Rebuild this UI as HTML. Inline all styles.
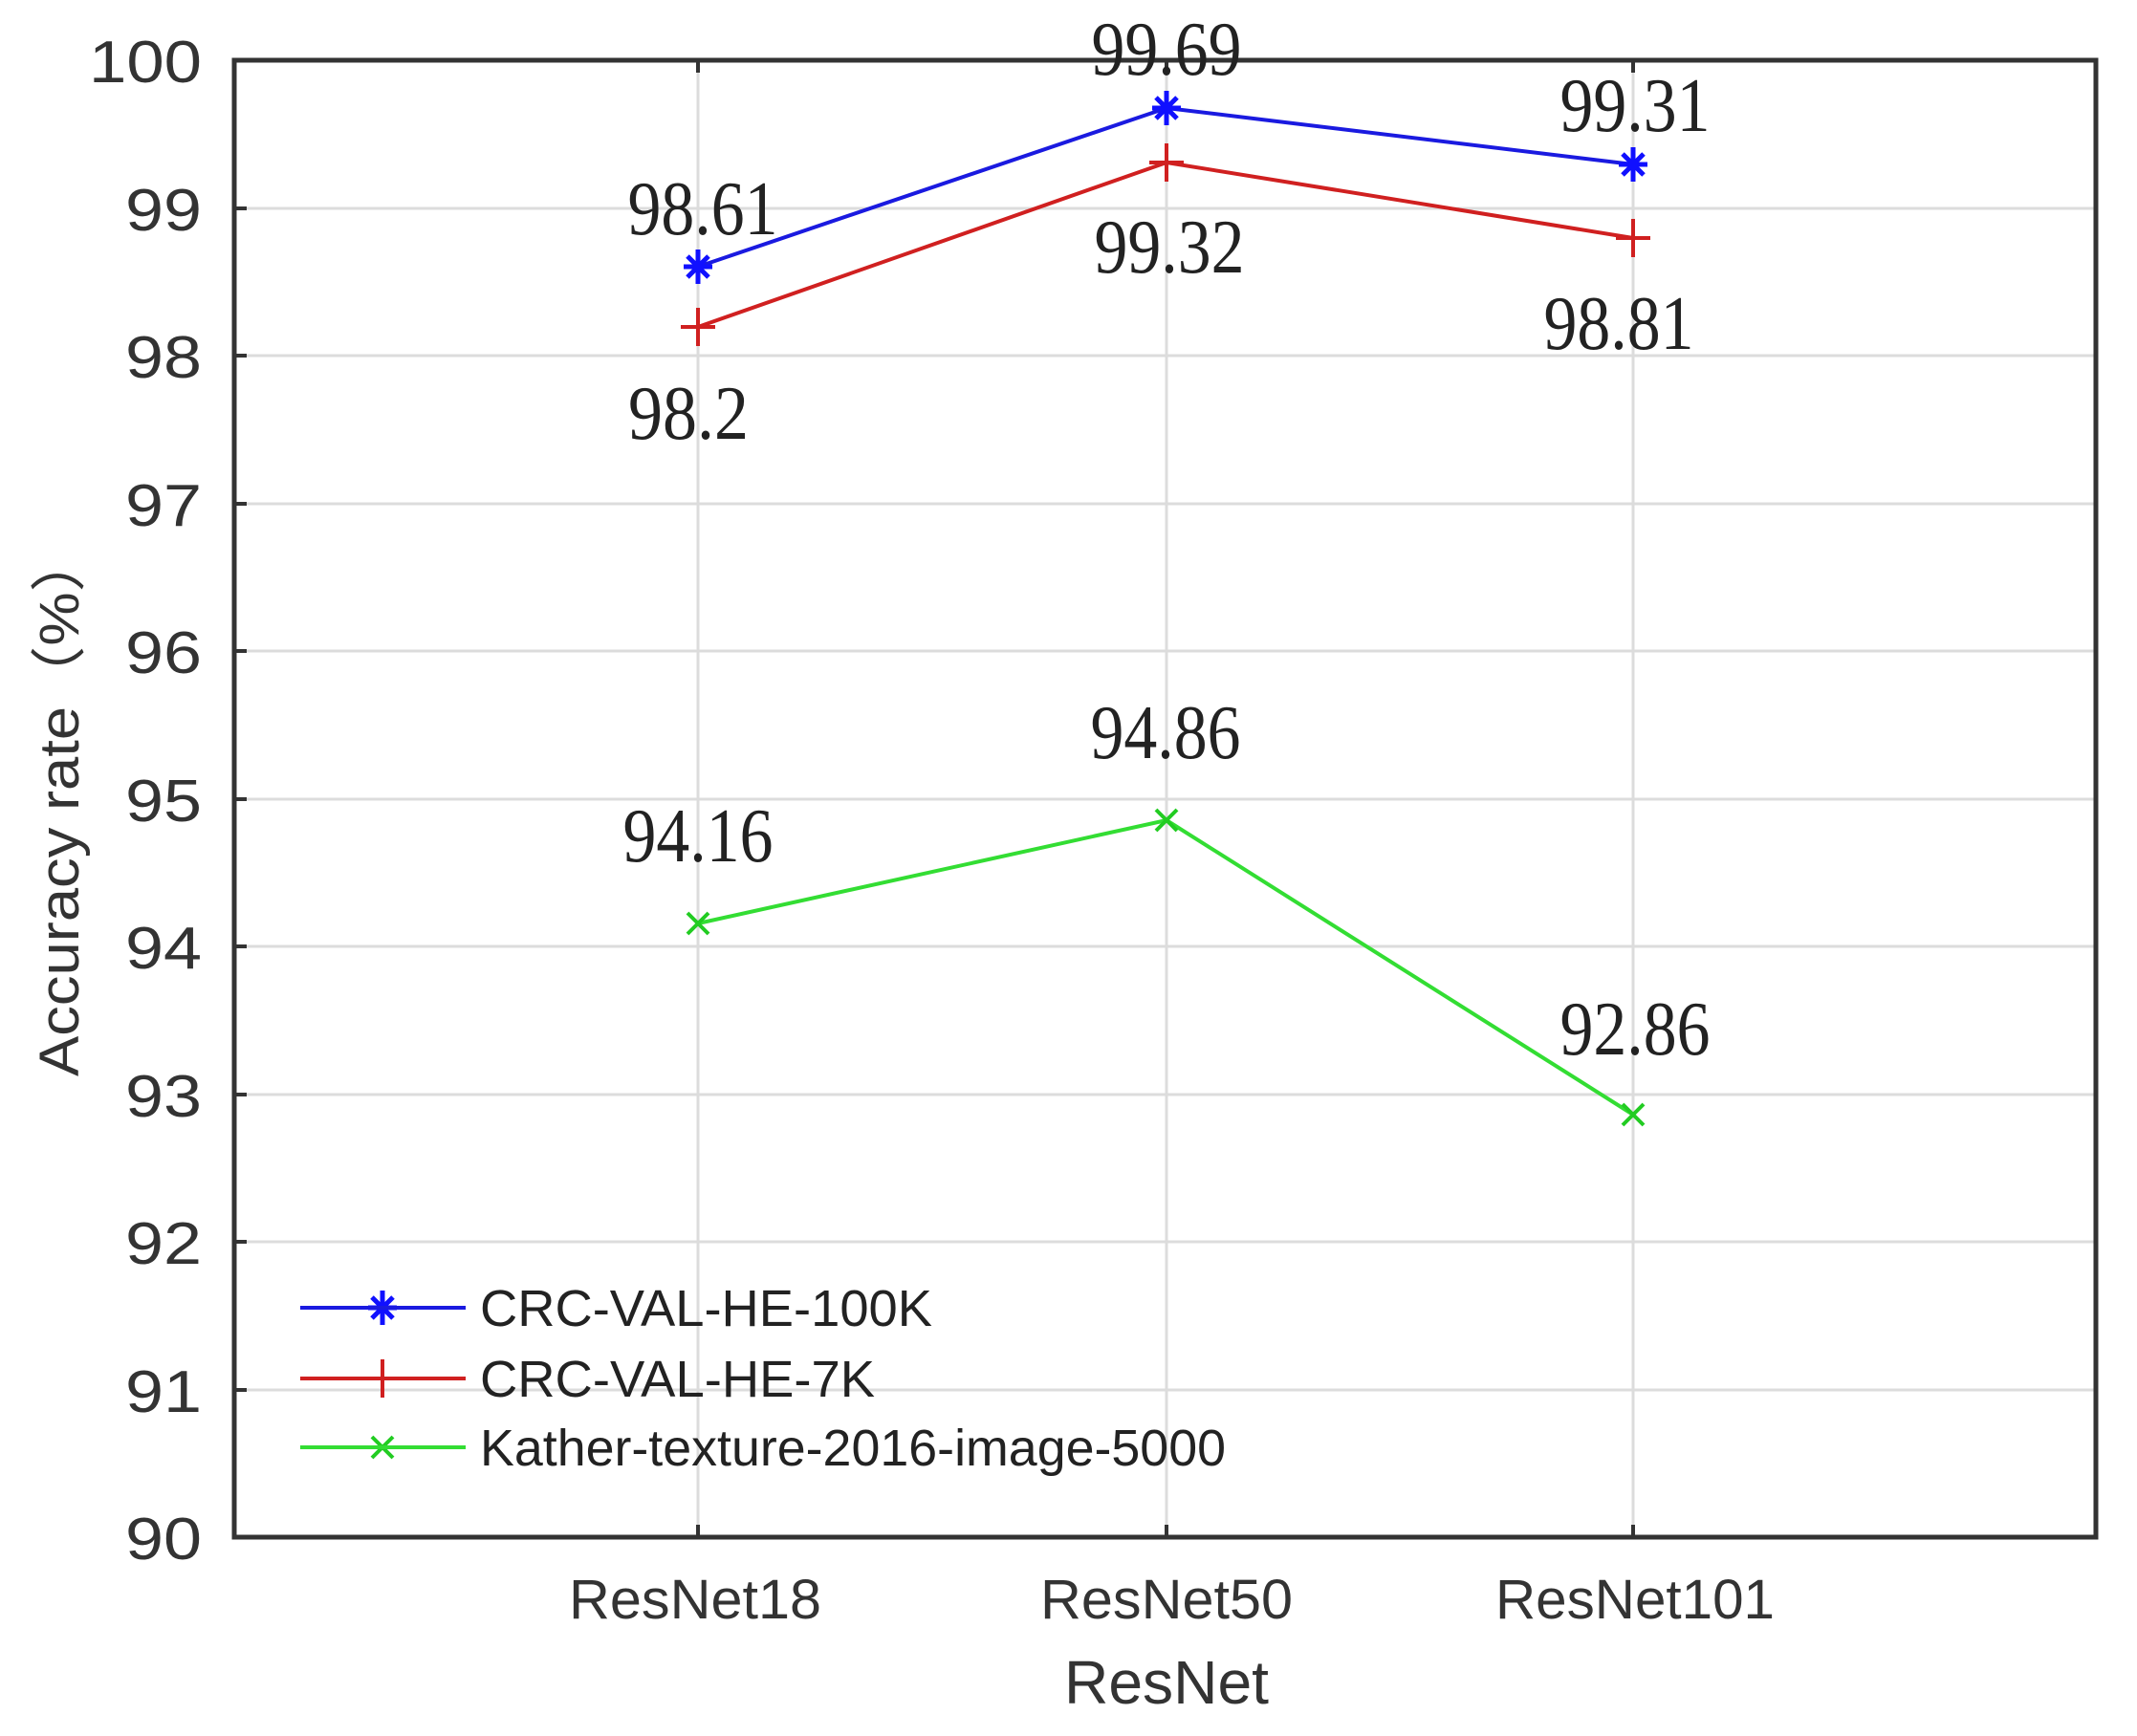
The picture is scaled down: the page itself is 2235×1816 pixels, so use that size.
<!DOCTYPE html>
<html><head><meta charset="utf-8"><style>html,body{margin:0;padding:0;background:#fff}svg{display:block}</style></head>
<body>
<svg width="2235" height="1816" viewBox="0 0 2235 1816" xmlns="http://www.w3.org/2000/svg">
<rect width="2235" height="1816" fill="#fff"/>
<g stroke="#dcdcdc" stroke-width="3">
<line x1="245" y1="218" x2="2192" y2="218"/><line x1="245" y1="372" x2="2192" y2="372"/>
<line x1="245" y1="527" x2="2192" y2="527"/><line x1="245" y1="681" x2="2192" y2="681"/>
<line x1="245" y1="836" x2="2192" y2="836"/><line x1="245" y1="990" x2="2192" y2="990"/>
<line x1="245" y1="1145" x2="2192" y2="1145"/><line x1="245" y1="1299" x2="2192" y2="1299"/>
<line x1="245" y1="1454" x2="2192" y2="1454"/>
<line x1="730" y1="63" x2="730" y2="1608"/><line x1="1220" y1="63" x2="1220" y2="1608"/><line x1="1708" y1="63" x2="1708" y2="1608"/>
</g>
<rect x="245" y="63" width="1947" height="1545" fill="none" stroke="#333" stroke-width="5"/>
<g stroke="#333" stroke-width="4">
<line x1="245" y1="218" x2="258" y2="218"/><line x1="245" y1="372" x2="258" y2="372"/><line x1="245" y1="527" x2="258" y2="527"/><line x1="245" y1="681" x2="258" y2="681"/><line x1="245" y1="836" x2="258" y2="836"/><line x1="245" y1="990" x2="258" y2="990"/><line x1="245" y1="1145" x2="258" y2="1145"/><line x1="245" y1="1299" x2="258" y2="1299"/><line x1="245" y1="1454" x2="258" y2="1454"/>
<line x1="730" y1="1608" x2="730" y2="1595"/><line x1="1220" y1="1608" x2="1220" y2="1595"/><line x1="1708" y1="1608" x2="1708" y2="1595"/>
<line x1="730" y1="63" x2="730" y2="76"/><line x1="1220" y1="63" x2="1220" y2="76"/><line x1="1708" y1="63" x2="1708" y2="76"/>
</g>
<g font-family="Liberation Sans, sans-serif" font-size="62" fill="#333" text-anchor="end">
<text x="211" y="86" textLength="118" lengthAdjust="spacingAndGlyphs">100</text>
<text x="211" y="241" textLength="80" lengthAdjust="spacingAndGlyphs">99</text>
<text x="211" y="395" textLength="80" lengthAdjust="spacingAndGlyphs">98</text>
<text x="211" y="550" textLength="80" lengthAdjust="spacingAndGlyphs">97</text>
<text x="211" y="704" textLength="80" lengthAdjust="spacingAndGlyphs">96</text>
<text x="211" y="859" textLength="80" lengthAdjust="spacingAndGlyphs">95</text>
<text x="211" y="1013" textLength="80" lengthAdjust="spacingAndGlyphs">94</text>
<text x="211" y="1168" textLength="80" lengthAdjust="spacingAndGlyphs">93</text>
<text x="211" y="1322" textLength="80" lengthAdjust="spacingAndGlyphs">92</text>
<text x="211" y="1477" textLength="80" lengthAdjust="spacingAndGlyphs">91</text>
<text x="211" y="1631" textLength="80" lengthAdjust="spacingAndGlyphs">90</text>
</g>
<g font-family="Liberation Sans, sans-serif" font-size="58" fill="#333" text-anchor="middle">
<text x="727" y="1693" textLength="264" lengthAdjust="spacingAndGlyphs">ResNet18</text>
<text x="1220" y="1693" textLength="264" lengthAdjust="spacingAndGlyphs">ResNet50</text>
<text x="1710" y="1693" textLength="292" lengthAdjust="spacingAndGlyphs">ResNet101</text>
<text x="1220" y="1782" font-size="64" textLength="214" lengthAdjust="spacingAndGlyphs">ResNet</text>
<text transform="translate(82,841) rotate(-90)" font-size="58" textLength="570" lengthAdjust="spacingAndGlyphs" font-family="Liberation Sans, Noto Sans CJK SC, sans-serif">Accuracy rate（%）</text>
</g>
<polyline points="730,279 1220,113 1708,172" fill="none" stroke="#1a1ae0" stroke-width="4"/>
<polyline points="730,342 1220,170 1708,249" fill="none" stroke="#d02020" stroke-width="4"/>
<polyline points="730,966 1220,858 1708,1166" fill="none" stroke="#33dd33" stroke-width="4"/>
<g stroke="#1010ff" stroke-width="5">
<g transform="translate(730,279)"><line x1="-15" y1="0" x2="15" y2="0"/><line x1="0" y1="-18" x2="0" y2="18"/><line x1="-11" y1="-11" x2="11" y2="11"/><line x1="-11" y1="11" x2="11" y2="-11"/></g>
<g transform="translate(1220,113)"><line x1="-15" y1="0" x2="15" y2="0"/><line x1="0" y1="-18" x2="0" y2="18"/><line x1="-11" y1="-11" x2="11" y2="11"/><line x1="-11" y1="11" x2="11" y2="-11"/></g>
<g transform="translate(1708,172)"><line x1="-15" y1="0" x2="15" y2="0"/><line x1="0" y1="-18" x2="0" y2="18"/><line x1="-11" y1="-11" x2="11" y2="11"/><line x1="-11" y1="11" x2="11" y2="-11"/></g>
<g transform="translate(400,1368)"><line x1="-15" y1="0" x2="15" y2="0"/><line x1="0" y1="-18" x2="0" y2="18"/><line x1="-11" y1="-11" x2="11" y2="11"/><line x1="-11" y1="11" x2="11" y2="-11"/></g>
</g>
<g stroke="#d02020" stroke-width="4">
<path d="M712 342h36M730 322v40M1202 170h36M1220 150v40M1690 249h36M1708 229v40M382 1442h36M400 1422v40"/>
</g>
<g stroke="#22cc22" stroke-width="4">
<path d="M719 955l22 22M741 955l-22 22M1209 847l22 22M1231 847l-22 22M1697 1155l22 22M1719 1155l-22 22M389 1503l22 22M411 1503l-22 22"/>
</g>
<line x1="314" y1="1368" x2="487" y2="1368" stroke="#1a1ae0" stroke-width="4"/>
<line x1="314" y1="1442" x2="487" y2="1442" stroke="#d02020" stroke-width="4"/>
<line x1="314" y1="1514" x2="487" y2="1514" stroke="#33dd33" stroke-width="4"/>
<g font-family="Liberation Sans, sans-serif" font-size="54" fill="#222">
<text x="502" y="1387" textLength="473" lengthAdjust="spacingAndGlyphs">CRC-VAL-HE-100K</text>
<text x="502" y="1461" textLength="413" lengthAdjust="spacingAndGlyphs">CRC-VAL-HE-7K</text>
<text x="502" y="1533" textLength="780" lengthAdjust="spacingAndGlyphs">Kather-texture-2016-image-5000</text>
</g>
<g font-family="Liberation Serif, serif" font-size="80" fill="#222" text-anchor="middle">
<text x="735" y="245" textLength="157" lengthAdjust="spacingAndGlyphs">98.61</text>
<text x="720" y="459" textLength="126" lengthAdjust="spacingAndGlyphs">98.2</text>
<text x="1220" y="78" textLength="157" lengthAdjust="spacingAndGlyphs">99.69</text>
<text x="1223" y="285" textLength="157" lengthAdjust="spacingAndGlyphs">99.32</text>
<text x="1710" y="137" textLength="157" lengthAdjust="spacingAndGlyphs">99.31</text>
<text x="1693" y="365" textLength="157" lengthAdjust="spacingAndGlyphs">98.81</text>
<text x="730" y="901" textLength="157" lengthAdjust="spacingAndGlyphs">94.16</text>
<text x="1219" y="793" textLength="157" lengthAdjust="spacingAndGlyphs">94.86</text>
<text x="1710" y="1103" textLength="157" lengthAdjust="spacingAndGlyphs">92.86</text>
</g>
</svg>
</body></html>
